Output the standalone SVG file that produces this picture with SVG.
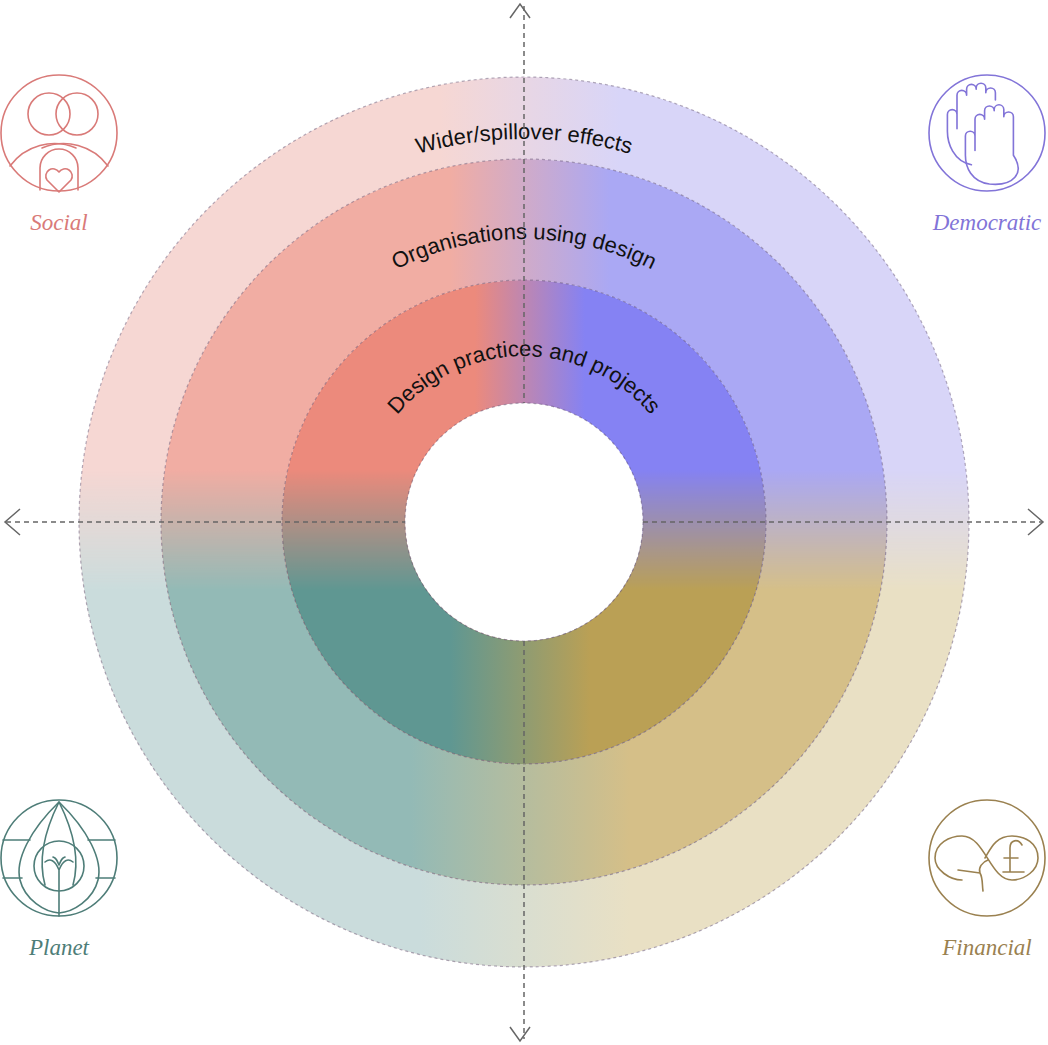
<svg xmlns="http://www.w3.org/2000/svg" width="1048" height="1045" viewBox="0 0 1048 1045">
<style>
.lbl{font-family:"Liberation Serif",serif;font-style:italic;font-size:23px;text-anchor:middle}
.ring{font-family:"Liberation Sans",Arial,sans-serif;font-size:22px;fill:#111}
.ic{fill:none;stroke-width:1.6;stroke-linejoin:round;stroke-linecap:round}
.bd{fill:none;stroke:#5a4a6a;stroke-opacity:.45;stroke-width:1.2;stroke-dasharray:3 3}
.ax{fill:none;stroke:#666;stroke-width:1.5}
</style>
<defs>
<linearGradient id="vm" gradientUnits="userSpaceOnUse" x1="0" y1="470" x2="0" y2="590"><stop offset="0" stop-color="#000"/><stop offset="1" stop-color="#fff"/></linearGradient>
<mask id="bot" maskUnits="userSpaceOnUse" x="0" y="0" width="1048" height="1045"><rect width="1048" height="1045" fill="url(#vm)"/></mask>
<linearGradient id="oT" gradientUnits="userSpaceOnUse" x1="440" y1="0" x2="620" y2="0"><stop offset="0" stop-color="#f6d7d3"/><stop offset="1" stop-color="#d8d5f8"/></linearGradient>
<linearGradient id="oB" gradientUnits="userSpaceOnUse" x1="420" y1="0" x2="630" y2="0"><stop offset="0" stop-color="#cadcdc"/><stop offset="1" stop-color="#e9e0c4"/></linearGradient>
<linearGradient id="mT" gradientUnits="userSpaceOnUse" x1="450" y1="0" x2="610" y2="0"><stop offset="0" stop-color="#f1ada3"/><stop offset="1" stop-color="#aaa8f4"/></linearGradient>
<linearGradient id="mB" gradientUnits="userSpaceOnUse" x1="410" y1="0" x2="630" y2="0"><stop offset="0" stop-color="#93bab6"/><stop offset="1" stop-color="#d5bf88"/></linearGradient>
<linearGradient id="iT" gradientUnits="userSpaceOnUse" x1="475" y1="0" x2="585" y2="0"><stop offset="0" stop-color="#ec8a7c"/><stop offset="1" stop-color="#8582f3"/></linearGradient>
<linearGradient id="iB" gradientUnits="userSpaceOnUse" x1="450" y1="0" x2="590" y2="0"><stop offset="0" stop-color="#5f9792"/><stop offset="1" stop-color="#baa055"/></linearGradient>
<path id="ao" d="M141,522 A383,383 0 0 1 907,522"/>
<path id="am" d="M241,522 A283,283 0 0 1 807,522"/>
<path id="ai" d="M358,522 A166,166 0 0 1 690,522"/>
</defs>
<g id="rings">
<g id="outer-ring">
<path fill="url(#oT)" fill-rule="evenodd" d="M79,522a445,445 0 1 0 890,0a445,445 0 1 0 -890,0ZM161,522a363,363 0 1 0 726,0a363,363 0 1 0 -726,0Z"/>
<path fill="url(#oB)" mask="url(#bot)" fill-rule="evenodd" d="M79,522a445,445 0 1 0 890,0a445,445 0 1 0 -890,0ZM161,522a363,363 0 1 0 726,0a363,363 0 1 0 -726,0Z"/>
</g>
<g id="middle-ring">
<path fill="url(#mT)" fill-rule="evenodd" d="M161,522a363,363 0 1 0 726,0a363,363 0 1 0 -726,0ZM282,522a242,242 0 1 0 484,0a242,242 0 1 0 -484,0Z"/>
<path fill="url(#mB)" mask="url(#bot)" fill-rule="evenodd" d="M161,522a363,363 0 1 0 726,0a363,363 0 1 0 -726,0ZM282,522a242,242 0 1 0 484,0a242,242 0 1 0 -484,0Z"/>
</g>
<g id="inner-ring">
<path fill="url(#iT)" fill-rule="evenodd" d="M282,522a242,242 0 1 0 484,0a242,242 0 1 0 -484,0ZM405,522a119,119 0 1 0 238,0a119,119 0 1 0 -238,0Z"/>
<path fill="url(#iB)" mask="url(#bot)" fill-rule="evenodd" d="M282,522a242,242 0 1 0 484,0a242,242 0 1 0 -484,0ZM405,522a119,119 0 1 0 238,0a119,119 0 1 0 -238,0Z"/>
</g>
<circle class="bd" cx="524" cy="522" r="445"/>
<circle class="bd" cx="524" cy="522" r="363"/>
<circle class="bd" cx="524" cy="522" r="242"/>
<circle class="bd" cx="524" cy="522" r="119"/>
<text class="ring"><textPath href="#ao" startOffset="50%" text-anchor="middle">Wider/spillover effects</textPath></text>
<text class="ring"><textPath href="#am" startOffset="50%" text-anchor="middle">Organisations using design</textPath></text>
<text class="ring"><textPath href="#ai" startOffset="50%" text-anchor="middle">Design practices and projects</textPath></text>
</g>
<g id="connectors">
<line class="ax" stroke-dasharray="5 4" x1="524" y1="6" x2="524" y2="403"/>
<line class="ax" stroke-dasharray="5 4" x1="524" y1="641" x2="524" y2="1039"/>
<line class="ax" stroke-dasharray="5 4" x1="6" y1="522" x2="405" y2="522"/>
<line class="ax" stroke-dasharray="5 4" x1="643" y1="522" x2="1042" y2="522"/>
<polyline class="ax" points="510,18 520,4 530,18"/>
<polyline class="ax" points="510,1027 520,1041 530,1027"/>
<polyline class="ax" points="20,509 5,522 20,535"/>
<polyline class="ax" points="1028,509 1043,522 1028,535"/>
</g>
<g id="social">
<g class="ic" stroke="#d97a78">
<circle cx="59" cy="133" r="58"/>
<circle cx="49" cy="114" r="21"/><circle cx="77" cy="114" r="21"/>
<path d="M10,166 A55,55 0 0 1 76,148"/><path d="M108,166 A55,55 0 0 0 42,148"/>
<path d="M40,190 V168 A19,19 0 0 1 78,168 V190"/>
<path d="M59,192 L47,180 A6,6 0 0 1 59,172 A6,6 0 0 1 71,180 Z"/>
</g>
<text class="lbl" x="59" y="230" fill="#d97a78">Social</text>
</g>
<g id="democratic">
<g class="ic" stroke="#8274d8">
<circle cx="987" cy="133" r="58"/>
<g transform="translate(987,136) scale(1.2) translate(-983,-134)" stroke-width="1.35">
<path d="M970,158 C955,155 950,140 950,130 V116 a4,4 0 0 1 8,0 V128 V100 a4,4 0 0 1 8,0 V95 a4,4 0 0 1 8,0 V94 a4,4 0 0 1 8,0 V98 a4,4 0 0 1 8,0 V104"/>
<path d="M985,174 C970,172 965,160 965,150 V134 a4,4 0 0 1 8,0 V146 V120 a4,4 0 0 1 8,0 V113 a4,4 0 0 1 8,0 V112 a4,4 0 0 1 8,0 V118 a4,4 0 0 1 8,0 V150 C1015,165 1005,176 985,174 Z"/>
</g>
</g>
<text class="lbl" x="987" y="230" fill="#8274d8">Democratic</text>
</g>
<g id="planet">
<g class="ic" stroke="#4e7d78">
<circle cx="59" cy="858" r="58"/>
<path d="M59,802 C30,830 15,860 20,880 C25,900 45,912 59,913 C73,912 93,900 98,880 C103,860 88,830 59,802 Z"/>
<path d="M59,802 C45,830 38,860 45,885 M59,802 C73,830 80,860 73,885"/>
<line x1="3" y1="840" x2="30" y2="840"/><line x1="88" y1="840" x2="115" y2="840"/>
<line x1="3" y1="878" x2="22" y2="878"/><line x1="96" y1="878" x2="115" y2="878"/>
<circle cx="59" cy="866" r="25"/>
<path d="M59,916 V870 M59,870 C55,860 50,858 45,862 M59,870 C63,860 68,858 73,862 M59,865 C57,860 56,858 53,857 M59,865 C61,860 62,858 65,857"/>
</g>
<text class="lbl" x="59" y="955" fill="#4e7d78">Planet</text>
</g>
<g id="financial">
<g class="ic" stroke="#9a8150">
<circle cx="987" cy="858" r="58"/>
<path d="M962,880 C950,880 935,870 935,858 C935,843 950,836 962,836 C985,836 990,880 1012,880 C1025,880 1038,870 1038,858 C1038,843 1025,836 1012,836 C995,836 990,850 985,858"/>
<path d="M958,870 L980,873 M980,873 C978,868 982,862 988,860 M980,873 C983,878 982,885 983,891"/>
<path d="M1022,845 C1018,838 1010,840 1010,848 V872 M1004,858 H1018 M1003,872 H1024"/>
</g>
<text class="lbl" x="987" y="955" fill="#9a8150">Financial</text>
</g>
</svg>
